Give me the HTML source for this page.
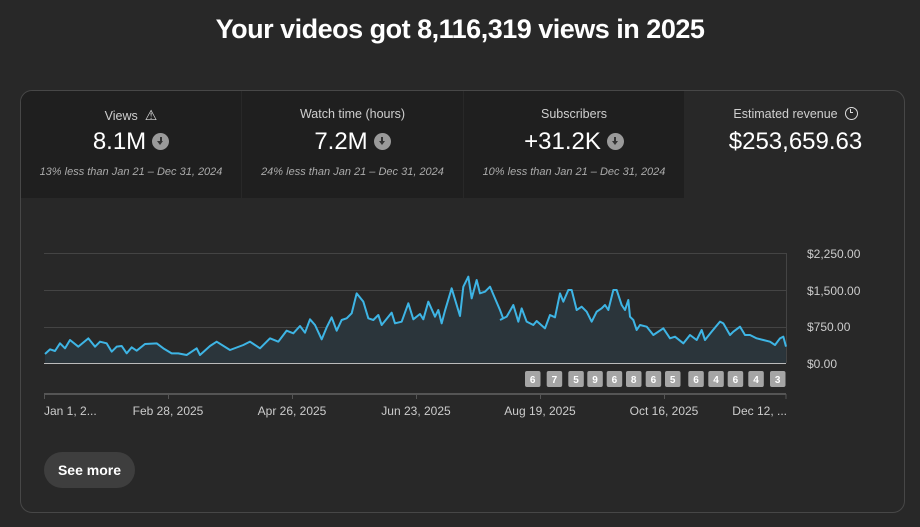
<!DOCTYPE html>
<html><head><meta charset="utf-8"><style>
*{margin:0;padding:0;box-sizing:border-box}
body{width:920px;height:527px;background:#282828;font-family:"Liberation Sans",sans-serif;color:#fff;position:relative;overflow:hidden}
h1{position:absolute;top:14px;left:0;width:920px;text-align:center;font-size:27px;font-weight:bold;letter-spacing:-0.5px}
.card{position:absolute;left:20px;top:90px;width:885px;height:423px;border:1px solid #474747;border-radius:12px;overflow:hidden}
.m{position:absolute;top:0;height:107px;text-align:center}
.m .l{position:absolute;top:16px;width:100%;font-size:12.5px;color:#cfcfcf}
.m .v{position:absolute;top:37px;width:100%;font-size:24px;color:#fff;line-height:28px}
.m .s{position:absolute;top:75px;width:100%;font-size:11px;font-style:italic;color:#aaa}
.dn{display:inline-block;width:17px;height:17px;border-radius:50%;background:#9a9a9a;vertical-align:-1px;margin-left:6px;position:relative}
.dn:after{content:"";position:absolute;left:5px;top:8px;border-left:3.5px solid transparent;border-right:3.5px solid transparent;border-top:4px solid #333}
.dn:before{content:"";position:absolute;left:7.5px;top:4px;width:2px;height:5px;background:#333}
.btn{position:absolute;left:44px;top:452px;width:91px;height:36px;border-radius:18px;background:#3e3e3e;font-size:14px;font-weight:bold;text-align:center;line-height:36px}
</style></head><body>
<h1>Your videos got 8,116,319 views in 2025</h1>
<div class="card">
<div class="m" style="left:0;width:220px;background:#1f1f1f"><div class="l">Views&nbsp; <span style="font-size:14px;color:#ddd">⚠</span></div><div class="v">8.1M<span class="dn"></span></div><div class="s">13% less than Jan 21 – Dec 31, 2024</div></div>
<div class="m" style="left:221px;width:221px;background:#1f1f1f"><div class="l">Watch time (hours)</div><div class="v">7.2M<span class="dn"></span></div><div class="s">24% less than Jan 21 – Dec 31, 2024</div></div>
<div class="m" style="left:443px;width:220px;background:#1f1f1f"><div class="l">Subscribers</div><div class="v">+31.2K<span class="dn"></span></div><div class="s">10% less than Jan 21 – Dec 31, 2024</div></div>
<div class="m" style="left:664px;width:221px"><div class="l">Estimated revenue&nbsp; <span style="display:inline-block;width:13px;height:13px;border:1.6px solid #ddd;border-radius:50%;vertical-align:-2px;position:relative"><span style="position:absolute;left:4px;top:1px;width:3px;height:4px;border-left:1.4px solid #ddd;border-bottom:1.4px solid #ddd"></span></span></div><div class="v">$253,659.63</div></div>
</div>
<svg width="920" height="527" style="position:absolute;left:0;top:0">
<g stroke="#444" stroke-width="1"><line x1="44" y1="253.5" x2="786" y2="253.5"/><line x1="44" y1="290.5" x2="786" y2="290.5"/><line x1="44" y1="327.5" x2="786" y2="327.5"/></g>
<line x1="786.5" y1="253" x2="786.5" y2="363" stroke="#444"/>
<g font-size="12" fill="#ccc"><text x="807" y="258">$2,250.00</text><text x="807" y="295">$1,500.00</text><text x="807" y="331">$750.00</text><text x="807" y="368">$0.00</text></g>
<g transform="translate(30,240) scale(0.33333)">
<polygon fill="#2b353b" points="45,370.5 45,342 60,328 75,333 90,310 105,325 120,300 145,320 175,295 195,320 210,305 230,310 245,335 260,320 275,318 290,340 305,322 320,332 345,312 380,310 400,325 425,340 445,340 470,345 500,325 510,345 540,318 560,305 600,330 640,315 660,305 690,325 720,295 745,305 770,272 790,280 810,258 825,278 840,238 855,255 875,298 890,262 905,232 920,272 935,240 950,235 965,220 980,160 1000,185 1015,235 1030,240 1045,225 1055,255 1085,218 1095,250 1115,245 1135,190 1150,238 1170,222 1180,238 1195,185 1215,230 1225,210 1235,250 1245,212 1265,145 1290,228 1300,140 1315,110 1325,175 1340,120 1350,160 1365,155 1380,140 1395,175 1410,210 1425,250 1440,230 1440,370.5"/>
<polyline fill="none" stroke="#3eb5e5" stroke-width="2" vector-effect="non-scaling-stroke" stroke-linejoin="round" points="45,342 60,328 75,333 90,310 105,325 120,300 145,320 175,295 195,320 210,305 230,310 245,335 260,320 275,318 290,340 305,322 320,332 345,312 380,310 400,325 425,340 445,340 470,345 500,325 510,345 540,318 560,305 600,330 640,315 660,305 690,325 720,295 745,305 770,272 790,280 810,258 825,278 840,238 855,255 875,298 890,262 905,232 920,272 935,240 950,235 965,220 980,160 1000,185 1015,235 1030,240 1045,225 1055,255 1085,218 1095,250 1115,245 1135,190 1150,238 1170,222 1180,238 1195,185 1215,230 1225,210 1235,250 1245,212 1265,145 1290,228 1300,140 1315,110 1325,175 1340,120 1350,160 1365,155 1380,140 1395,175 1410,210 1425,250 1440,230"/>
</g>
<g transform="translate(500,240) scale(0.33333)">
<polygon fill="#2b353b" points="0,370.5 0,240 20,230 40,195 55,245 65,205 80,245 100,255 110,243 135,265 150,225 165,232 180,160 190,185 205,150 215,150 230,210 245,200 260,215 275,245 290,215 305,205 315,195 325,210 340,150 350,150 365,195 375,210 385,180 390,230 400,240 410,270 420,255 440,260 460,285 490,265 510,295 525,290 550,310 570,285 590,300 605,270 615,300 635,275 660,245 670,250 690,285 700,275 720,260 735,285 750,285 770,295 790,300 810,305 825,315 840,295 850,290 858,320 858,370.5"/>
<polyline fill="none" stroke="#3eb5e5" stroke-width="2" vector-effect="non-scaling-stroke" stroke-linejoin="round" points="0,240 20,230 40,195 55,245 65,205 80,245 100,255 110,243 135,265 150,225 165,232 180,160 190,185 205,150 215,150 230,210 245,200 260,215 275,245 290,215 305,205 315,195 325,210 340,150 350,150 365,195 375,210 385,180 390,230 400,240 410,270 420,255 440,260 460,285 490,265 510,295 525,290 550,310 570,285 590,300 605,270 615,300 635,275 660,245 670,250 690,285 700,275 720,260 735,285 750,285 770,295 790,300 810,305 825,315 840,295 850,290 858,320"/>
</g>
<line x1="44" y1="363.5" x2="786" y2="363.5" stroke="#bbb" stroke-width="1"/>
<g fill="#a5a5a5">
<rect x="525" y="371" width="15.5" height="16" rx="2"/><rect x="546.7" y="371" width="15.5" height="16" rx="2"/><rect x="568.3" y="371" width="15.5" height="16" rx="2"/><rect x="587.3" y="371" width="15.5" height="16" rx="2"/><rect x="606.7" y="371" width="15.5" height="16" rx="2"/><rect x="626" y="371" width="15.5" height="16" rx="2"/><rect x="645.7" y="371" width="15.5" height="16" rx="2"/><rect x="665" y="371" width="15.5" height="16" rx="2"/><rect x="688.3" y="371" width="15.5" height="16" rx="2"/><rect x="708.3" y="371" width="15.5" height="16" rx="2"/><rect x="727.7" y="371" width="15.5" height="16" rx="2"/><rect x="748.3" y="371" width="15.5" height="16" rx="2"/><rect x="770" y="371" width="15.5" height="16" rx="2"/>
</g>
<g fill="#fff" font-size="10" font-weight="bold" text-anchor="middle">
<text x="532.7" y="383">6</text><text x="554.4" y="383">7</text><text x="576" y="383">5</text><text x="595" y="383">9</text><text x="614.4" y="383">6</text><text x="633.7" y="383">8</text><text x="653.4" y="383">6</text><text x="672.7" y="383">5</text><text x="696" y="383">6</text><text x="716" y="383">4</text><text x="735.4" y="383">6</text><text x="756" y="383">4</text><text x="777.7" y="383">3</text>
</g>
<line x1="44" y1="394" x2="786" y2="394" stroke="#555" stroke-width="2"/>
<g stroke="#555" stroke-width="1"><line x1="44.5" y1="394" x2="44.5" y2="399"/><line x1="168.5" y1="394" x2="168.5" y2="399"/><line x1="292.5" y1="394" x2="292.5" y2="399"/><line x1="416.5" y1="394" x2="416.5" y2="399"/><line x1="540.5" y1="394" x2="540.5" y2="399"/><line x1="664.5" y1="394" x2="664.5" y2="399"/><line x1="786" y1="394" x2="786" y2="399"/></g>
<g font-size="12" fill="#ccc" text-anchor="middle"><text x="44" y="415" text-anchor="start">Jan 1, 2...</text><text x="168" y="415">Feb 28, 2025</text><text x="292" y="415">Apr 26, 2025</text><text x="416" y="415">Jun 23, 2025</text><text x="540" y="415">Aug 19, 2025</text><text x="664" y="415">Oct 16, 2025</text><text x="787" y="415" text-anchor="end">Dec 12, ...</text></g>
</svg>
<div class="btn">See more</div>
</body></html>
